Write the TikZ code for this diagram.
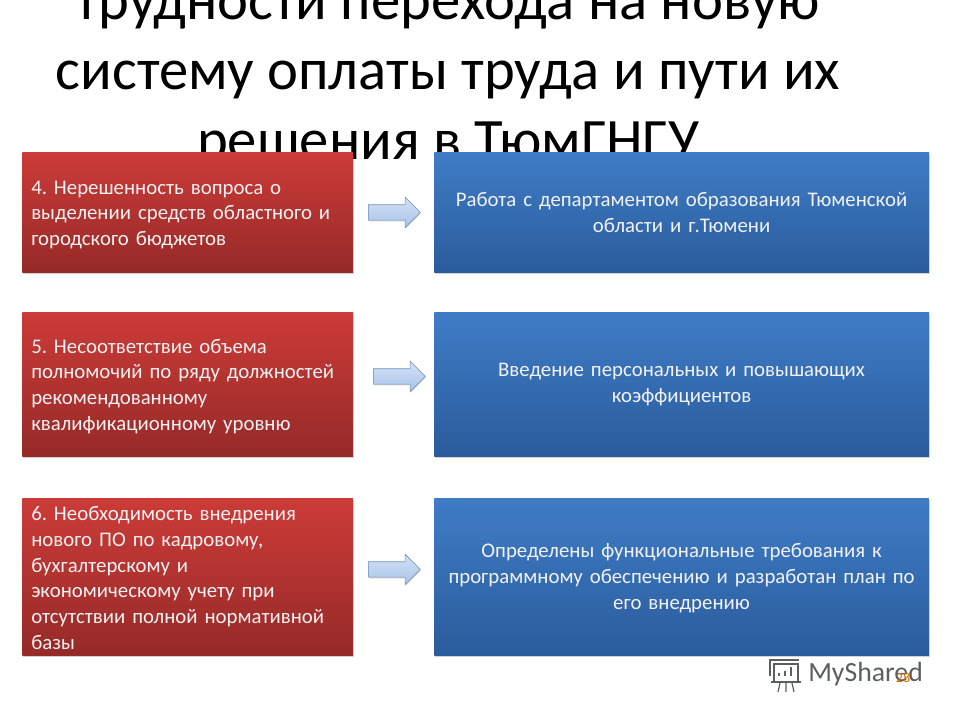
\documentclass[tikz,border=0pt]{standalone}
\usepackage{fontspec}
\setmainfont{Carlito}
\usetikzlibrary{positioning,shapes.arrows,shadows}
\definecolor{redtop}{HTML}{CC3B38}
\definecolor{redbot}{HTML}{952A28}
\definecolor{bluetop}{HTML}{3F7CC6}
\definecolor{bluebot}{HTML}{2A5C9C}
\definecolor{arrowtop}{HTML}{D3E1F5}
\definecolor{arrowbot}{HTML}{A9C4EA}
\definecolor{arrowline}{HTML}{6F8DB5}
\definecolor{logogray}{HTML}{5A5F62}
\newcommand\lift[1]{\rule{0pt}{#1}}
\tikzset{
  panel/.style={anchor=north west,inner xsep=0pt,inner ysep=0pt,text=white!95!black,
    font=\fontsize{15.6pt}{19.3pt}\selectfont\frenchspacing,
    drop shadow={shadow xshift=0.6pt,shadow yshift=-1.2pt,opacity=0.35}},
  redbox/.style={panel,top color=redtop,bottom color=redbot,minimum width=247.9pt,
    text width=234.4pt,align=left},
  bluebox/.style={panel,top color=bluetop,bottom color=bluebot,minimum width=370.9pt,
    text width=365pt,align=center},
  nextarrow/.style={single arrow,draw=arrowline,top color=arrowtop,bottom color=arrowbot,
    minimum height=39pt,inner xsep=0pt,inner ysep=5.6pt,
    single arrow head extend=5.6pt,single arrow tip angle=90,
    drop shadow={shadow xshift=0.3pt,shadow yshift=-0.8pt,opacity=0.3}},
}
\begin{document}
\begin{tikzpicture}[x=0.75pt,y=0.75pt]
\useasboundingbox (0,0) rectangle (960,720);
\fill[white] (0,0) rectangle (960,720);
% heading
\node[align=center,font=\fontsize{44pt}{52.5pt}\selectfont] (title) at (448,640)
  {трудности перехода на новую\\ систему оплаты труда и пути их\\ решения в ТюмГНГУ};
% left column
\node[redbox,minimum height=90.4pt] (p4) at (22,568)
  {\lift{13.5pt}4. Нерешенность вопроса о\\ выделении средств областного и\\ городского бюджетов};
\node[redbox,minimum height=108.4pt] (p5) at (22,408)
  {\lift{13.5pt}5. Несоответствие объема\\ полномочий по ряду должностей\\ рекомендованному\\ квалификационному уровню};
\node[redbox,minimum height=118.2pt] (p6) at (22,222)
  {\lift{12pt}6. Необходимость внедрения\\ нового ПО по кадровому,\\ бухгалтерскому и\\ экономическому учету при\\ отсутствии полной нормативной\\ базы};
% right column
\node[bluebox,minimum height=90.4pt] (s4) at (434,568)
  {Работа с департаментом образования Тюменской\\ области и г.Тюмени\\[12pt]};
\node[bluebox,minimum height=108.4pt] (s5) at (434,408)
  {Введение персональных и повышающих\\ коэффициентов\\[6pt]};
\node[bluebox,minimum height=118.2pt] (s6) at (434,222)
  {\lift{12pt}Определены функциональные требования к\\ программному обеспечению и разработан план по\\ его внедрению};
% arrows
\node[nextarrow] (a4) at (390.5,507.5) {};
\node[nextarrow] (a5) at (395.5,343.5) {};
\node[nextarrow] (a6) at (390.5,150.5) {};
% logo
\begin{scope}[draw=logogray,line width=0.9pt]
\draw[line width=1.2pt] (770,44) -- (770,60) -- (799,60);
\draw (774,56) rectangle (798,38);
\draw[line width=1.6pt] (771,38) -- (801,38);
\draw[line width=1.4pt] (779,44) -- (779,47) (785,44) -- (785,49) (791,44) -- (791,53);
\draw (780,37) -- (778,28) (786,37) -- (786,28) (792,37) -- (794,28);
\end{scope}
\node[anchor=west,text=logogray,font=\fontsize{20.8pt}{23pt}\selectfont,inner sep=0pt] (logo) at (808,46) {MyShared};
\node[text=orange!85!black,font=\fontsize{10.5pt}{12pt}\selectfont,inner sep=0pt] (num) at (903,42) {28};
\end{tikzpicture}
\end{document}
